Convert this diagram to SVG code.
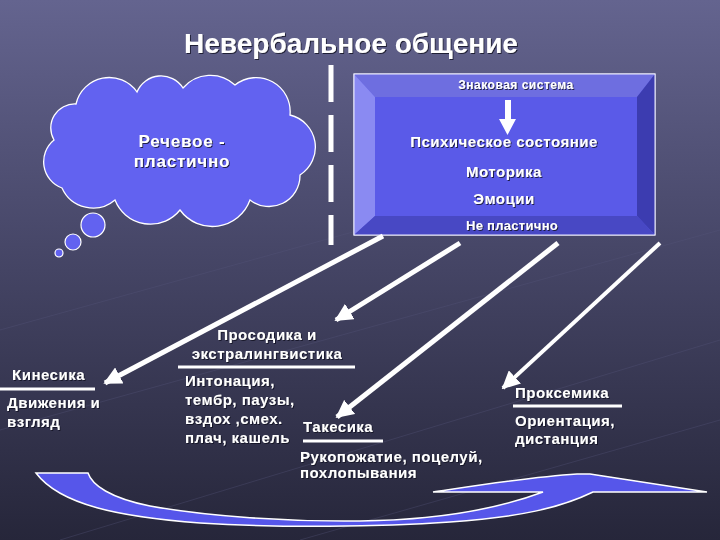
<svg xmlns="http://www.w3.org/2000/svg" width="720" height="540" viewBox="0 0 720 540">
<defs>
<linearGradient id="bg" x1="0" y1="0" x2="0" y2="1">
<stop offset="0" stop-color="#64648f"/>
<stop offset="0.5" stop-color="#444464"/>
<stop offset="1" stop-color="#26263a"/>
</linearGradient>
<filter id="sh" x="-10%" y="-20%" width="120%" height="150%">
<feDropShadow dx="1" dy="1" stdDeviation="0.6" flood-color="#101020" flood-opacity="0.8"/>
</filter>
<marker id="ah" viewBox="0 0 10 10" refX="9" refY="5" markerWidth="18" markerHeight="18" markerUnits="userSpaceOnUse" orient="auto">
<path d="M0,0 L10,5 L0,10 Z" fill="#ffffff"/>
</marker>
<style>
text{font-family:"Liberation Sans",Arial,sans-serif;fill:#ffffff;font-weight:bold;filter:url(#sh)}
.t{font-size:15px;letter-spacing:0.5px}
.s{font-size:12px;letter-spacing:0.5px}
.c{text-anchor:middle}
.u{stroke:#ffffff;stroke-width:3}
.ar{stroke:#ffffff;stroke-width:5;fill:none;marker-end:url(#ah)}
</style>
</defs>
<rect width="720" height="540" fill="url(#bg)"/>
<g stroke="#55557a" stroke-width="1" opacity="0.35">
<line x1="0" y1="330" x2="720" y2="130"/>
<line x1="0" y1="430" x2="720" y2="230"/>
<line x1="60" y1="540" x2="720" y2="340"/>
<line x1="300" y1="540" x2="720" y2="420"/>
</g>

<g id="title">
<text x="351" y="53" class="c" style="font-size:28px">Невербальное общение</text>
</g>

<g id="divider">
<line x1="331" y1="65" x2="331" y2="245" stroke="#ffffff" stroke-width="5" stroke-dasharray="37,13"/>
</g>

<g id="cloud">
<path d="M54,140 A24,24 0 0 1 76,104 A34,34 0 0 1 137,92 A26,26 0 0 1 183,88 A36,36 0 0 1 235,85 A34,34 0 0 1 290,115 A33,33 0 0 1 300,175 A31,31 0 0 1 250,200 A40,40 0 0 1 180,210 A38,38 0 0 1 115,200 A34,34 0 0 1 62,188 A28,28 0 0 1 54,140 Z" fill="#6262f0" stroke="#ffffff" stroke-width="1.3"/>
<circle cx="93" cy="225" r="12" fill="#6262f0" stroke="#ffffff" stroke-width="1.2"/>
<circle cx="73" cy="242" r="8" fill="#6262f0" stroke="#ffffff" stroke-width="1.2"/>
<circle cx="59" cy="253" r="4" fill="#6262f0" stroke="#ffffff" stroke-width="1.2"/>
<text x="182" y="147" class="c" style="font-size:17px;letter-spacing:0.8px">Речевое -</text>
<text x="182" y="167" class="c" style="font-size:17px;letter-spacing:0.8px">пластично</text>
</g>

<g id="sign-box">
<rect x="354" y="74" width="301" height="161" fill="#5a5ae6" stroke="#ffffff" stroke-width="1"/>
<polygon points="354,74 655,74 637,97 375,97" fill="#6e6ee0"/>
<polygon points="354,74 375,97 375,216 354,235" fill="#8a8af2"/>
<polygon points="655,74 637,97 637,216 655,235" fill="#3c3cb0"/>
<polygon points="354,235 375,216 637,216 655,235" fill="#4848c4"/>
<rect x="375" y="97" width="262" height="119" fill="#5a5ae8"/>
<rect x="354" y="74" width="301" height="161" fill="none" stroke="#e8e8ff" stroke-width="1"/>
<text x="516" y="89" class="s c">Знаковая система</text>
<rect x="505" y="100" width="6" height="21" fill="#ffffff"/>
<polygon points="499,119 516,119 507.5,135" fill="#ffffff"/>
<text x="504" y="147" class="t c">Психическое состояние</text>
<text x="504" y="177" class="t c">Моторика</text>
<text x="504" y="204" class="t c">Эмоции</text>
<text x="512" y="230" class="c" style="font-size:13px;letter-spacing:0.3px">Не пластично</text>
</g>

<g id="connectors">
<line x1="383" y1="236" x2="105" y2="383" class="ar"/>
<line x1="460" y1="243" x2="336" y2="320" class="ar"/>
<line x1="558" y1="243" x2="337" y2="417" class="ar"/>
<line x1="660" y1="243" x2="503" y2="388" class="ar" style="stroke-width:4"/>
</g>

<g id="kinesika">
<text x="12" y="380" class="t">Кинесика</text>
<line x1="0" y1="389" x2="95" y2="389" class="u"/>
<text x="7" y="408" class="t">Движения и</text>
<text x="7" y="427" class="t">взгляд</text>
</g>

<g id="prosodika">
<text x="267" y="340" class="t c">Просодика и</text>
<text x="267" y="359" class="t c">экстралингвистика</text>
<line x1="178" y1="367" x2="355" y2="367" class="u"/>
<text x="185" y="386" class="t">Интонация,</text>
<text x="185" y="405" class="t">тембр, паузы,</text>
<text x="185" y="424" class="t">вздох ,смех.</text>
<text x="185" y="443" class="t">плач, кашель</text>
</g>

<g id="takesika">
<text x="303" y="432" class="t">Такесика</text>
<line x1="303" y1="441" x2="383" y2="441" class="u"/>
<text x="300" y="462" class="t">Рукопожатие, поцелуй,</text>
<text x="300" y="478" class="t">похлопывания</text>
</g>

<g id="proksemika">
<text x="515" y="398" class="t">Проксемика</text>
<line x1="513" y1="406" x2="622" y2="406" class="u"/>
<text x="515" y="426" class="t">Ориентация,</text>
<text x="515" y="444" class="t">дистанция</text>
</g>

<g id="curved-arrow">
<path d="M36,473 L88,473 C92,485 110,498 150,506 C200,515 280,522 360,521 C440,520 500,508 543,492 L433,492 C480,485 530,477 577,474 L590,474 L707,492 L593,492 C560,508 520,517 450,522 C380,527 280,528 200,523 C120,517 60,505 36,473 Z" fill="#5656ea" stroke="#ffffff" stroke-width="1.5"/>
</g>
</svg>
